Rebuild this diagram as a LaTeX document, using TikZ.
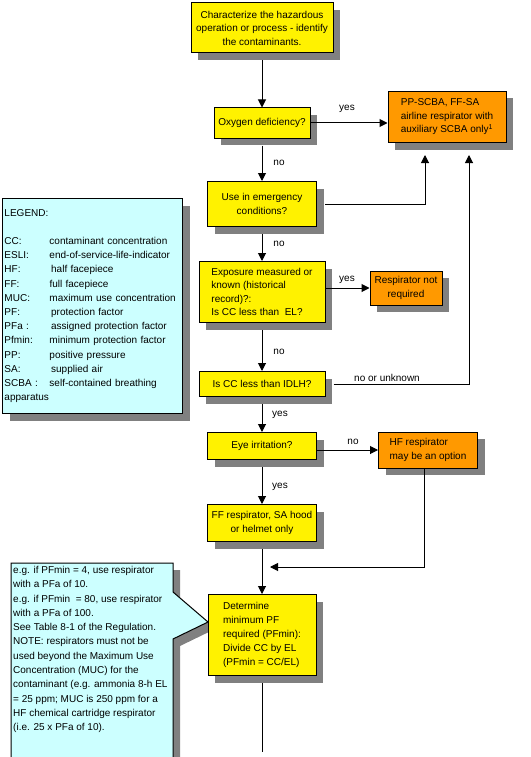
\documentclass[tikz,border=0pt]{standalone}
\usepackage{fontspec}
\setmainfont{Liberation Sans}
\usetikzlibrary{arrows.meta,shadows}
\definecolor{orangefill}{HTML}{FF9900}
\definecolor{notefill}{HTML}{CCFFFF}
\definecolor{shadegray}{HTML}{808080}
\newcommand{\legitem}[2]{\makebox[45pt][l]{#1}#2}

\begin{document}
\begin{tikzpicture}[x=1pt,y=-1pt]
		\tikzstyle{shade}=[drop shadow={shadow xshift=7pt,shadow yshift=-7pt,fill=shadegray,opacity=1}]
		\tikzstyle{box}=[draw=black,line width=1pt,rectangle,inner sep=0pt,shade,font=\fontsize{10}{13.5}\selectfont]
		\tikzstyle{yellow-node}=[box,fill=yellow,align=center]
		\tikzstyle{orange-node}=[box,fill=orangefill,align=left]
		\tikzstyle{note-node}=[draw=black,line width=1pt,fill=notefill,shade,inner sep=2pt,align=left]
		\tikzstyle{note-text}=[inner sep=0pt,align=left,font=\fontsize{10}{14.3}\selectfont]
		\tikzstyle{tag}=[inner sep=0pt,font=\fontsize{10}{12}\selectfont]
		\tikzstyle{flow}=[-{Triangle[length=8pt,width=8pt]},line width=1pt]
		\useasboundingbox (0,0) rectangle (530,757);
		% legend
		\node [note-node,anchor=north west,text width=176,minimum height=215,font=\fontsize{10}{14.2}\selectfont] at (2,198) (legend) {LEGEND:\\\mbox{}\\
			\legitem{CC:}{contaminant concentration}\\
			\legitem{ESLI:}{end-of-service-life-indicator}\\
			\legitem{HF:}{\,half facepiece}\\
			\legitem{FF:}{full facepiece}\\
			\legitem{MUC:}{maximum use concentration}\\
			\legitem{PF:}{\,protection factor}\\
			\legitem{PFa :}{\,assigned protection factor}\\
			\legitem{Pfmin:}{minimum protection factor}\\
			\legitem{PP:}{positive pressure}\\
			\legitem{SA:}{\,supplied air}\\
			\legitem{SCBA :}{self-contained breathing}\\
			apparatus};
		% callout
		\draw [draw=black,line width=1pt,fill=notefill,shade] (11,563) -- (173,563) -- (173,592) -- (208,622) -- (173,639) -- (173,775) -- (11,775) -- cycle;
		\node [note-text,anchor=north west] at (13,566) (hint) {e.g. if PFmin = 4, use respirator\\
			with a PFa of 10.\\
			e.g. if PFmin \ = 80, use respirator\\
			with a PFa of 100.\\
			See Table 8-1 of the Regulation.\\
			NOTE: respirators must not be\\
			used beyond the Maximum Use\\
			Concentration (MUC) for the\\
			contaminant (e.g. ammonia 8-h EL\\
			= 25 ppm; MUC is 250 ppm for a\\
			HF chemical cartridge respirator\\
			(i.e. 25 x PFa of 10).};
		% main column
		\node [yellow-node,minimum width=142,minimum height=50] at (262,28) (char) {Characterize the hazardous\\operation or process - identify\\the contaminants.};
		\node [yellow-node,minimum width=96,minimum height=30] at (262,123) (oxy) {Oxygen deficiency?};
		\node [yellow-node,minimum width=109,minimum height=45] at (262,204) (emerg) {Use in emergency\\conditions?};
		\node [yellow-node,align=left,minimum width=126,minimum height=61] at (262,292) (expo) {Exposure measured or\\known (historical\\record)?:\\Is CC less than \ EL?};
		\node [yellow-node,minimum width=126,minimum height=25] at (262,384) (idlh) {Is CC less than IDLH?};
		\node [yellow-node,minimum width=109,minimum height=27] at (262,446) (eye) {Eye irritation?};
		\node [yellow-node,minimum width=109,minimum height=37] at (262,523) (ff) {FF respirator, SA hood\\or helmet only};
		\node [yellow-node,align=left,minimum width=108,minimum height=81,font=\fontsize{10}{14}\selectfont] at (262,635) (det) {Determine\\minimum PF\\required (PFmin):\\Divide CC by EL\\(PFmin = CC/EL)};
		% outcomes
		\node [orange-node,minimum width=118,minimum height=51] at (447,117) (pp) {PP-SCBA, FF-SA\\airline respirator with\\auxiliary SCBA only\textsuperscript{1}};
		\node [orange-node,align=center,minimum width=72,minimum height=34] at (406,288) (notreq) {Respirator not\\required};
		\node [orange-node,minimum width=99,minimum height=36] at (428,450) (hf) {HF respirator\\may be an option};
		% labels
		\node [tag] at (347,109) (yes1) {yes};
		\node [tag] at (279,163) (no1) {no};
		\node [tag] at (279,244) (no2) {no};
		\node [tag] at (347,280) (yes2) {yes};
		\node [tag] at (279,352) (no3) {no};
		\node [tag] at (387,378) (unk) {no or unknown};
		\node [tag] at (280,415) (yes3) {yes};
		\node [tag] at (353,442) (no4) {no};
		\node [tag] at (280,487) (yes4) {yes};
		\coordinate (join) at (270,567);
		\coordinate (exit) at (262,752);
		% connectors
		\draw [flow] ([yshift=-7pt]char.south) -- (oxy.north);
		\draw [flow] (oxy.east) -- (oxy.east -| pp.west);
		\draw [flow] ([yshift=-7pt]oxy.south) -- (emerg.north);
		\draw [flow] ([xshift=8pt]emerg.east) -| ([xshift=-22pt,yshift=-12pt]pp.south);
		\draw [flow] ([yshift=-7pt]emerg.south) -- (expo.north);
		\draw [flow] (expo.east |- notreq.west) -- (notreq.west);
		\draw [flow] ([yshift=-7pt]expo.south) -- (idlh.north);
		\draw [flow] ([xshift=8pt]idlh.east) -| ([xshift=22pt,yshift=-12pt]pp.south);
		\draw [flow] ([yshift=-7pt]idlh.south) -- (eye.north);
		\draw [flow] (eye.east |- hf.west) -- (hf.west);
		\draw [flow] ([yshift=-7pt]eye.south) -- (ff.north);
		\draw [flow] ([yshift=-7pt]ff.south) -- (det.north);
		\draw [flow] ([xshift=-4pt]hf.south) |- (join);
		\draw [line width=1pt] ([yshift=-7pt]det.south) -- (exit);
\end{tikzpicture}
\end{document}
